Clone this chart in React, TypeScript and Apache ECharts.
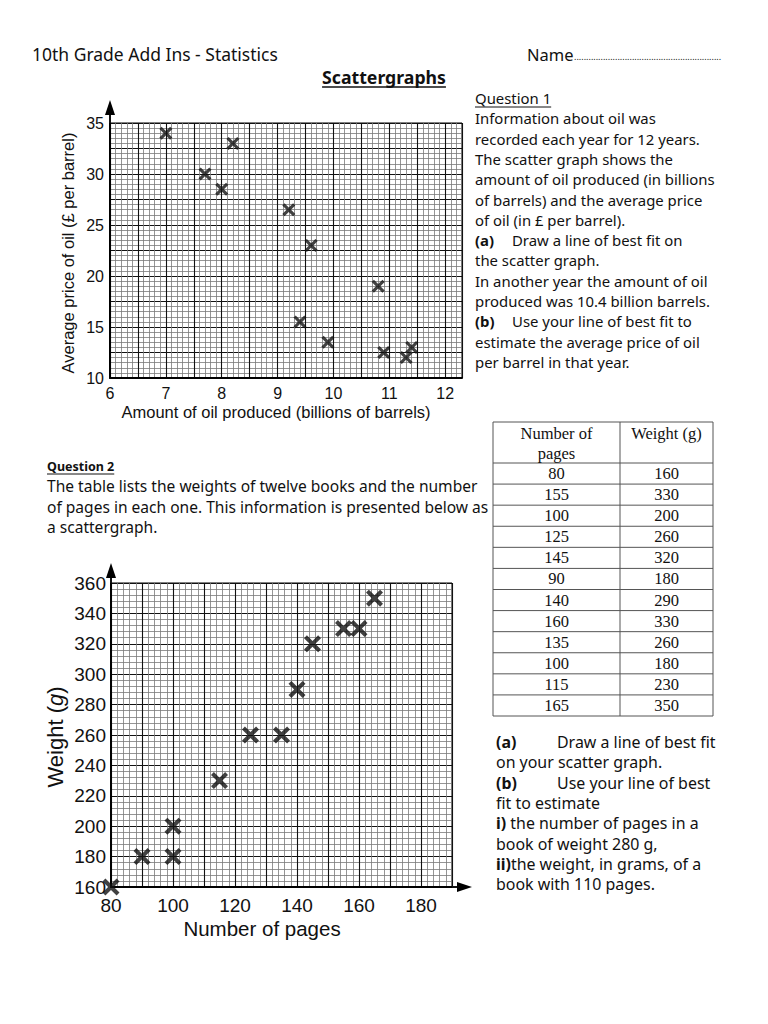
import React, { useEffect, useRef } from "react";
import * as echarts from "echarts";

// ---- Question 1 data ----
const oilAmount = [7, 7.7, 8, 8.2, 9.2, 9.6, 9.4, 9.9, 10.8, 10.9, 11.3, 11.4];
const oilPrice = [34, 30, 28.5, 33, 26.5, 23, 15.5, 13.5, 19, 12.5, 12, 13];

// ---- Question 2 data (table) ----
const pages = [80, 155, 100, 125, 145, 90, 140, 160, 135, 100, 115, 165];
const weights = [160, 330, 200, 260, 320, 180, 290, 330, 260, 180, 230, 350];

// ---- Texts ----
const q1Lines = [
  "Information about oil was",
  "recorded each year for 12 years.",
  "The scatter graph shows the",
  "amount of oil produced (in billions",
  "of barrels) and the average price",
  "of oil (in £ per barrel).",
];
const q1Lines2 = [
  "the scatter graph.",
  "In another year the amount of oil",
  "produced was 10.4 billion barrels.",
];
const q1Lines3 = ["estimate the average price of oil", "per barrel in that year."];
const q2Intro = [
  "The table lists the weights of twelve books and the number",
  "of pages in each one. This information is presented below as",
  "a scattergraph.",
];

const FONT = '"Noto Sans", sans-serif';
const SERIF = '"Liberation Serif", serif';
const ARIAL = '"Liberation Sans", Arial, sans-serif';

const CROSS =
  "path://M0,1.7L1.7,0L5,3.3L8.3,0L10,1.7L6.7,5L10,8.3L8.3,10L5,6.7L1.7,10L0,8.3L3.3,5Z";

function measure(text: string, font: string): number {
  const ctx = document.createElement("canvas").getContext("2d") as CanvasRenderingContext2D;
  ctx.font = font;
  return ctx.measureText(text).width;
}
function fit(text: string, target: number, weight = "normal", family = FONT): number {
  return (20 * target) / measure(text, `${weight} 20px ${family}`);
}
const near = (v: number, m: number) => Math.abs(v / m - Math.round(v / m)) < 1e-6;

export default function App() {
  const ref = useRef<HTMLDivElement>(null);

  useEffect(() => {
    if (!ref.current) return;
    const chart = echarts.init(ref.current, null, { renderer: "svg" });

    const bodyFs = fit("amount of oil produced (in billions", 240);
    const q2Fs = fit("The table lists the weights of twelve books and the number", 431);
    const q2rFs = fit("book with 110 pages.", 159);
    const headFs = fit("10th Grade Add Ins - Statistics", 246);
    const titleFs = fit("Scattergraphs", 124, "bold");
    const q2HeadFs = 12.5;

    const g: any[] = [];
    const T = (x: number, y: number, text: string, o: any = {}) =>
      g.push({
        type: "text",
        x,
        y,
        rotation: o.rotation || 0,
        z: 100,
        style: {
          text,
          fill: "#111",
          fontFamily: o.family || FONT,
          fontSize: o.size || bodyFs,
          fontWeight: o.weight || "normal",
          align: o.align || "left",
          verticalAlign: "middle",
          rich: o.rich,
        },
      });
    const L = (x1: number, y1: number, x2: number, y2: number, w = 1, c = "#111") =>
      g.push({ type: "line", z: 100, shape: { x1, y1, x2, y2 }, style: { stroke: c, lineWidth: w } });
    const U = (x: number, y: number, text: string, font: string, w = 1) =>
      L(x, y, x + measure(text, font), y, w);

    // Header
    T(32, 54, "10th Grade Add Ins - Statistics", { size: headFs });
    T(527, 54, "Name", { size: headFs - 1 });
    T(574, 56, ".............................................................", { size: 9 });
    T(384, 77, "Scattergraphs", { size: titleFs, weight: "bold", align: "center" });
    const tw = measure("Scattergraphs", `bold ${titleFs}px ${FONT}`);
    L(384 - tw / 2, 87, 384 + tw / 2, 87, 1.4);

    // Question 1 text
    const step = 20.3;
    T(475, 98, "Question 1", { size: bodyFs });
    U(475, 107, "Question 1", `${bodyFs}px ${FONT}`, 1);
    q1Lines.forEach((s, i) => T(475, 98 + (i + 1) * step, s));
    T(475, 98 + 7 * step, "(a)", { weight: "bold" });
    T(512, 98 + 7 * step, "Draw a line of best fit on");
    q1Lines2.forEach((s, i) => T(475, 98 + (8 + i) * step, s));
    T(475, 98 + 11 * step, "(b)", { weight: "bold" });
    T(512, 98 + 11 * step, "Use your line of best fit to");
    q1Lines3.forEach((s, i) => T(475, 98 + (12 + i) * step, s));

    // Question 1 axis titles
    T(276, 412, "Amount of oil produced (billions of barrels)", { family: ARIAL, size: 16.5, align: "center" });
    T(68, 253, "Average price of oil (£ per barrel)", {
      family: ARIAL,
      size: 16.5,
      align: "center",
      rotation: Math.PI / 2,
    });
    // Q1 y-axis arrow
    L(110, 123, 110, 110, 2);
    g.push({ type: "polygon", z: 100, shape: { points: [[110, 100], [105, 115], [115, 115]] }, style: { fill: "#000" } });

    // Question 2 intro
    T(47, 466, "Question 2", { size: q2HeadFs, weight: "bold" });
    U(47, 474, "Question 2", `bold ${q2HeadFs}px ${FONT}`, 1);
    q2Intro.forEach((s, i) => T(47, 486 + i * 20.5, s, { size: q2Fs }));

    // Table
    const tx0 = 493, tx1 = 713, tmid = 620, ty0 = 422, tyh = 463;
    const rowH = (716 - tyh) / pages.length;
    g.push({
      type: "rect",
      z: 100,
      shape: { x: tx0, y: ty0, width: tx1 - tx0, height: tyh + rowH * pages.length - ty0 },
      style: { fill: "none", stroke: "#555", lineWidth: 1 },
    });
    L(tmid, ty0, tmid, tyh + rowH * pages.length, 1, "#555");
    for (let i = 0; i < pages.length; i++) L(tx0, tyh + i * rowH, tx1, tyh + i * rowH, 1, "#555");
    const c1 = (tx0 + tmid) / 2, c2 = (tmid + tx1) / 2;
    T(c1, 433, "Number of", { family: SERIF, size: 16.5, align: "center" });
    T(c1, 453, "pages", { family: SERIF, size: 16.5, align: "center" });
    T(c2, 433, "Weight (g)", { family: SERIF, size: 16.5, align: "center" });
    pages.forEach((p, i) => {
      const cy = tyh + (i + 0.5) * rowH;
      T(c1, cy, String(p), { family: SERIF, size: 16.5, align: "center" });
      T(c2, cy, String(weights[i]), { family: SERIF, size: 16.5, align: "center" });
    });

    // Question 2 right-hand text
    const s2 = 20.3;
    const rich = { b: { fontWeight: "bold", fontSize: q2rFs, fontFamily: FONT, fill: "#111" } };
    T(496, 742, "(a)", { size: q2rFs, weight: "bold" });
    T(557, 742, "Draw a line of best fit", { size: q2rFs });
    T(496, 742 + s2, "on your scatter graph.", { size: q2rFs });
    T(496, 742 + 2 * s2, "(b)", { size: q2rFs, weight: "bold" });
    T(557, 742 + 2 * s2, "Use your line of best", { size: q2rFs });
    T(496, 742 + 3 * s2, "fit to estimate", { size: q2rFs });
    T(496, 742 + 4 * s2, "{b|i)} the number of pages in a", { size: q2rFs, rich });
    T(496, 742 + 5 * s2, "book of weight 280 g,", { size: q2rFs });
    T(496, 742 + 6 * s2, "{b|ii)}the weight, in grams, of a", { size: q2rFs, rich });
    T(496, 742 + 7 * s2, "book with 110 pages.", { size: q2rFs });

    // Q2 axis titles
    T(262, 928, "Number of pages", { family: ARIAL, size: 20.5, align: "center" });
    T(55, 737, "Weight ({i|g})", {
      family: ARIAL,
      size: 22,
      align: "center",
      rotation: Math.PI / 2,
      rich: { i: { fontStyle: "italic", fontFamily: ARIAL, fontSize: 22, fill: "#111" } },
    });
    // Q2 arrows
    L(111, 583, 111, 573, 2);
    g.push({ type: "polygon", z: 100, shape: { points: [[111, 563], [106, 578], [116, 578]] }, style: { fill: "#000" } });
    L(452, 887, 462, 887, 2);
    g.push({ type: "polygon", z: 100, shape: { points: [[472, 887], [457, 882], [457, 892]] }, style: { fill: "#000" } });

    const heavy = { show: true, lineStyle: { color: "#111", width: 1.1 } };
    const fine = { show: true, lineStyle: { color: "#7a7a7a", width: 0.8 } };
    const axLine = { show: true, onZero: false, lineStyle: { color: "#000", width: 2 } };

    chart.setOption({
      animation: false,
      backgroundColor: "#fff",
      graphic: g,
      grid: [
        { left: 110, top: 123, width: 352, height: 255, show: true, borderColor: "#000", borderWidth: 1, backgroundColor: "transparent" },
        { left: 111, top: 583, width: 341, height: 304, show: true, borderColor: "#000", borderWidth: 1, backgroundColor: "transparent" },
      ],
      xAxis: [
        {
          type: "value",
          gridIndex: 0,
          min: 6,
          max: 12.3,
          interval: 0.5,
          axisLine: axLine,
          axisTick: { show: false },
          axisLabel: {
            formatter: (v: number) => (near(v, 1) ? String(Math.round(v)) : ""),
            color: "#111",
            fontSize: 16,
            fontFamily: ARIAL,
            margin: 7,
            showMaxLabel: false,
          },
          splitLine: heavy,
          minorTick: { show: false, splitNumber: 5 },
          minorSplitLine: fine,
        },
        {
          type: "value",
          gridIndex: 1,
          min: 80,
          max: 190,
          interval: 10,
          axisLine: axLine,
          axisTick: { show: false },
          axisLabel: {
            formatter: (v: number) => (near(v, 20) ? String(Math.round(v)) : ""),
            color: "#111",
            fontSize: 19,
            fontFamily: ARIAL,
            margin: 9,
            showMaxLabel: false,
          },
          splitLine: heavy,
          minorTick: { show: false, splitNumber: 5 },
          minorSplitLine: fine,
        },
      ],
      yAxis: [
        {
          type: "value",
          gridIndex: 0,
          min: 10,
          max: 35,
          interval: 2.5,
          axisLine: axLine,
          axisTick: { show: false },
          axisLabel: {
            formatter: (v: number) => (near(v, 5) ? String(Math.round(v)) : ""),
            color: "#111",
            fontSize: 16,
            fontFamily: ARIAL,
            margin: 6,
          },
          splitLine: heavy,
          minorTick: { show: false, splitNumber: 5 },
          minorSplitLine: fine,
        },
        {
          type: "value",
          gridIndex: 1,
          min: 160,
          max: 360,
          interval: 20,
          axisLine: axLine,
          axisTick: { show: false },
          axisLabel: {
            formatter: (v: number) => String(Math.round(v)),
            color: "#111",
            fontSize: 19,
            fontFamily: ARIAL,
            margin: 5,
          },
          splitLine: heavy,
          minorTick: { show: false, splitNumber: 5 },
          minorSplitLine: fine,
        },
      ],
      series: [
        {
          type: "scatter",
          xAxisIndex: 0,
          yAxisIndex: 0,
          data: oilAmount.map((x, i) => [x, oilPrice[i]]),
          symbol: CROSS,
          symbolSize: 13,
          itemStyle: { color: "#111" },
          clip: false,
          z: 10,
        },
        {
          type: "scatter",
          xAxisIndex: 1,
          yAxisIndex: 1,
          data: pages.map((x, i) => [x, weights[i]]),
          symbol: CROSS,
          symbolSize: 17,
          itemStyle: { color: "#111" },
          clip: false,
          z: 10,
        },
      ],
    });

    return () => chart.dispose();
  }, []);

  return (
    <div
      ref={ref}
      style={{ position: "absolute", left: 0, top: 0, width: 768, height: 1024, background: "#fff" }}
    />
  );
}
